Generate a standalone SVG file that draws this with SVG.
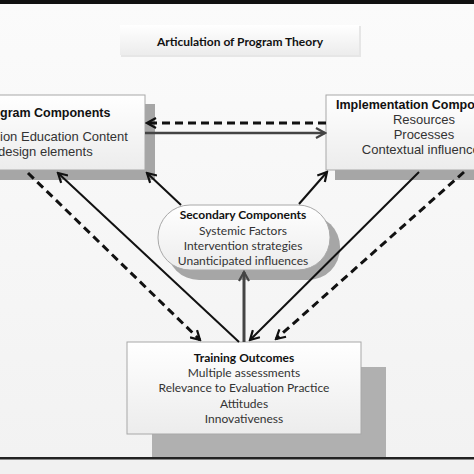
<svg xmlns="http://www.w3.org/2000/svg" width="474" height="474" viewBox="0 0 474 474">
<defs>
<linearGradient id="bg" x1="0" y1="0" x2="0" y2="1"><stop offset="0" stop-color="#fbfbfb"/><stop offset="1" stop-color="#f2f2f2"/></linearGradient>
<linearGradient id="box" x1="0" y1="0" x2="0" y2="1"><stop offset="0" stop-color="#ffffff"/><stop offset="1" stop-color="#ececec"/></linearGradient>
<marker id="ah" viewBox="0 0 12 12" refX="10" refY="6" markerWidth="12" markerHeight="12" markerUnits="userSpaceOnUse" orient="auto">
<path d="M1,1 L10,6 L1,11" fill="none" stroke="#111" stroke-width="2.2"/>
</marker>
<marker id="ahg" viewBox="0 0 12 12" refX="10" refY="6" markerWidth="12" markerHeight="12" markerUnits="userSpaceOnUse" orient="auto">
<path d="M1,1 L10,6 L1,11" fill="none" stroke="#444" stroke-width="2.2"/>
</marker>
</defs>
<style>
.box{fill:url(#box);stroke:#a8a8a8;stroke-width:1}
.shd{fill:#a6a6a6}
.sans{font-family:"Liberation Sans",Arial,sans-serif;font-size:13px;fill:#333}
.cal{font-family:Lato,"Open Sans",sans-serif;font-size:12px;fill:#333}
.b{font-weight:bold;fill:#111}
.sb{font-size:12.5px}
.sol{fill:none;stroke:#111;stroke-width:2}
.dash{fill:none;stroke:#111;stroke-width:3;stroke-dasharray:8,5}
.gry{fill:none;stroke:#444;stroke-width:3}
</style>
<rect x="0" y="0" width="474" height="474" fill="#f1f1f1"/>
<rect x="0" y="3" width="474" height="455" fill="url(#bg)"/>
<rect x="0" y="0" width="474" height="4" fill="#111"/>
<rect x="0" y="457" width="474" height="2.5" fill="#222"/>

<g id="title">
<rect x="121" y="26" width="240" height="31" fill="#e6e6e6"/>
<rect x="120" y="25" width="239" height="30" fill="url(#box)"/>
<text x="240" y="46" text-anchor="middle" class="cal b">Articulation of Program Theory</text>
</g>

<g id="program-components">
<rect x="-10" y="104" width="165" height="76" class="shd"/>
<rect x="-10" y="95" width="155" height="75" class="box"/>
<text x="0" y="117" class="sans b sb">gram Components</text>
<text x="0" y="141" class="sans">ion Education Content</text>
<text x="-2" y="156" class="sans">design elements</text>
</g>

<g id="implementation-components">
<rect x="335" y="104" width="150" height="76" class="shd"/>
<rect x="326" y="95" width="160" height="75" class="box"/>
<text x="336" y="109" class="sans b sb">Implementation Components</text>
<text x="424" y="124" text-anchor="middle" class="sans">Resources</text>
<text x="424" y="139" text-anchor="middle" class="sans">Processes</text>
<text x="424" y="154" text-anchor="middle" class="sans">Contextual influences</text>
</g>

<g id="secondary-components">
<rect x="167" y="215" width="173" height="65" rx="32" class="shd"/>
<rect x="158" y="205" width="172" height="65" rx="32" class="box"/>
<text x="243" y="219" text-anchor="middle" class="cal b">Secondary Components</text>
<text x="243" y="235" text-anchor="middle" class="cal">Systemic Factors</text>
<text x="243" y="250" text-anchor="middle" class="cal">Intervention strategies</text>
<text x="243" y="265" text-anchor="middle" class="cal">Unanticipated influences</text>
</g>

<g id="training-outcomes">
<rect x="152" y="367" width="234" height="90" fill="#b0b0b0"/>
<rect x="127" y="342" width="234" height="92" class="box"/>
<text x="244" y="362" text-anchor="middle" class="cal b">Training Outcomes</text>
<text x="244" y="377" text-anchor="middle" class="cal">Multiple assessments</text>
<text x="244" y="392" text-anchor="middle" class="cal">Relevance to Evaluation Practice</text>
<text x="244" y="408" text-anchor="middle" class="cal">Attitudes</text>
<text x="244" y="423" text-anchor="middle" class="cal">Innovativeness</text>
</g>

<g id="connectors">
<line x1="326" y1="123" x2="147" y2="123" class="dash" marker-end="url(#ah)"/>
<line x1="145" y1="133" x2="325" y2="133" class="gry" style="stroke-width:2.5" marker-end="url(#ahg)"/>
<line x1="244" y1="342" x2="244" y2="272" class="gry" marker-end="url(#ahg)"/>
<line x1="239" y1="342" x2="58" y2="173" class="sol" marker-end="url(#ah)"/>
<line x1="28" y1="173" x2="200" y2="340" class="dash" marker-end="url(#ah)"/>
<line x1="181" y1="205" x2="147" y2="173" class="sol" marker-end="url(#ah)"/>
<line x1="299" y1="204" x2="327" y2="172" class="sol" marker-end="url(#ah)"/>
<line x1="419" y1="172" x2="250" y2="340" class="sol" marker-end="url(#ah)"/>
<line x1="464" y1="172" x2="276" y2="339" class="dash" marker-end="url(#ah)"/>
</g>
</svg>
